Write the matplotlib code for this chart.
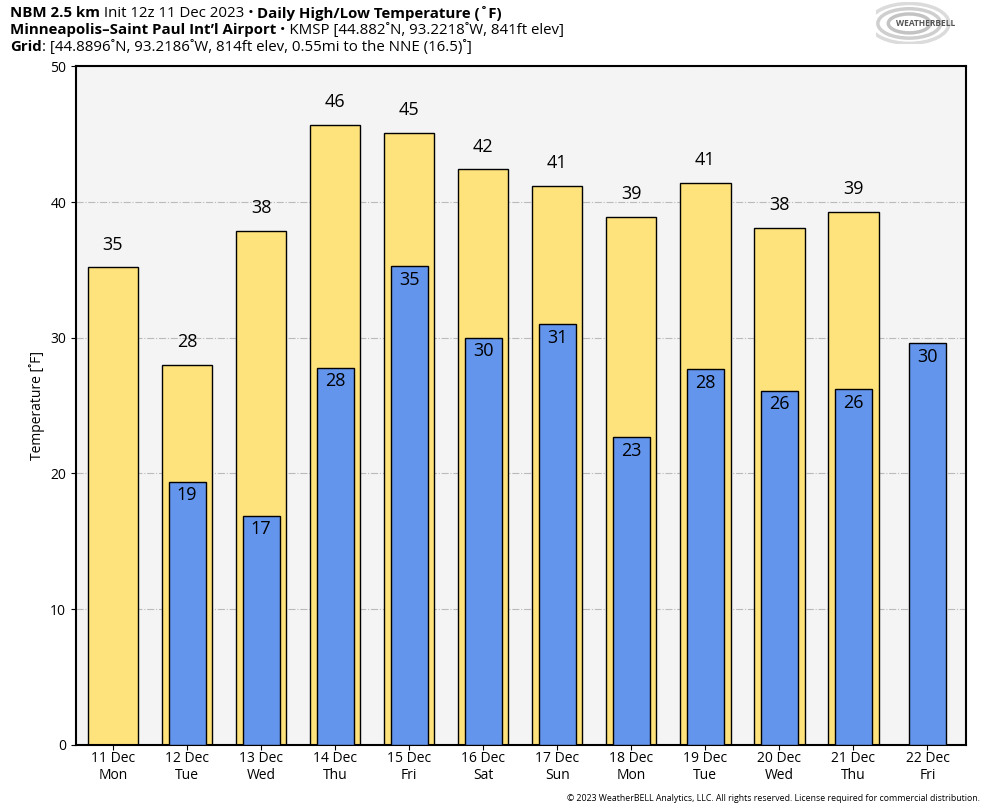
import numpy as np
import matplotlib
matplotlib.use("Agg")
import matplotlib.pyplot as plt
from matplotlib.patches import Ellipse

plt.rcParams["font.family"] = ["Open Sans", "Noto Sans", "DejaVu Sans"]

dates = ["11 Dec", "12 Dec", "13 Dec", "14 Dec", "15 Dec", "16 Dec",
         "17 Dec", "18 Dec", "19 Dec", "20 Dec", "21 Dec", "22 Dec"]
days = ["Mon", "Tue", "Wed", "Thu", "Fri", "Sat",
        "Sun", "Mon", "Tue", "Wed", "Thu", "Fri"]
highs = [35.2, 28.0, 37.9, 45.7, 45.1, 42.4, 41.2, 38.9, 41.4, 38.1, 39.3, np.nan]
lows = [np.nan, 19.4, 16.9, 27.8, 35.3, 30.0, 31.0, 22.7, 27.7, 26.1, 26.2, 29.6]

header = [
    [("NBM 2.5 km", "bold"), (" Init 12z 11 Dec 2023 • ", "normal"),
     ("Daily High/Low Temperature (˚F)", "bold")],
    [("Minneapolis–Saint Paul Int’l Airport", "bold"),
     (" • KMSP [44.882˚N, 93.2218˚W, 841ft elev]", "normal")],
    [("Grid", "bold"), (": [44.8896˚N, 93.2186˚W, 814ft elev, 0.55mi to the NNE (16.5)˚]", "normal")],
]

HIGH_C = "#fee27b"
LOW_C = "#6495ed"

fig = plt.figure(figsize=(9.84, 8.08), dpi=100)
ax = fig.add_axes([0.0772, 0.078, 0.9045, 0.840])
ax.set_facecolor("#f4f4f4")

x = np.arange(len(dates))
ax.bar(x, highs, width=0.68, color=HIGH_C, edgecolor="black", linewidth=1, zorder=2)
ax.bar(x, lows, width=0.5, color=LOW_C, edgecolor="black", linewidth=1, zorder=3)

for xi, h in zip(x, highs):
    if not np.isnan(h):
        ax.text(xi, h + 1.0, f"{h:.0f}", ha="center", va="bottom", fontsize=13, zorder=4)
for xi, lo in zip(x, lows):
    if not np.isnan(lo):
        ax.text(xi, lo - 0.35, f"{lo:.0f}", ha="center", va="top", fontsize=13, zorder=4)

ax.set_xlim(-0.5, 11.52)
ax.set_ylim(0, 50)
ax.set_yticks(range(0, 51, 10))
ax.set_xticks(x)
ax.set_xticklabels([f"{d}\n{w}" for d, w in zip(dates, days)], fontsize=10, linespacing=1.15)
ax.tick_params(axis="x", pad=1)
ax.tick_params(axis="y", labelsize=10)
ax.set_ylabel("Temperature [˚F]", fontsize=10)
ax.grid(axis="y", color="#bbbbbb", linestyle="-.", linewidth=0.8, zorder=1)
ax.set_axisbelow(True)
for s in ax.spines.values():
    s.set_linewidth(1.5)

# header, drawn piece by piece so bold and normal runs sit side by side
renderer = fig.canvas.get_renderer()
inv = fig.transFigure.inverted()
for i, parts in enumerate(header):
    xpos = 0.010
    ypos = 0.993 - i * 0.021
    for txt, wt in parts:
        t = fig.text(xpos, ypos, txt, fontsize=10.8, fontweight=wt, va="top", ha="left")
        bb = t.get_window_extent(renderer=renderer)
        xpos = inv.transform((bb.x1, bb.y1))[0]

# logo
lax = fig.add_axes([0.89, 0.945, 0.085, 0.052])
lax.set_xlim(0, 1); lax.set_ylim(0, 1); lax.axis("off")
for w, hgt, a in [(0.95, 0.95, 0.3), (0.75, 0.7, 0.4), (0.5, 0.45, 0.5)]:
    lax.add_patch(Ellipse((0.4, 0.5), w, hgt, fill=False, ec="#888888", lw=2.5, alpha=a))
lax.text(0.6, 0.5, "WEATHERBELL", fontsize=6, color="#555555", ha="center", va="center",
         fontweight="bold")

fig.text(0.996, 0.006, "© 2023 WeatherBELL Analytics, LLC. All rights reserved. License required for commercial distribution.",
         fontsize=6.3, ha="right", va="bottom")

fig.savefig("out.png", dpi=100)
